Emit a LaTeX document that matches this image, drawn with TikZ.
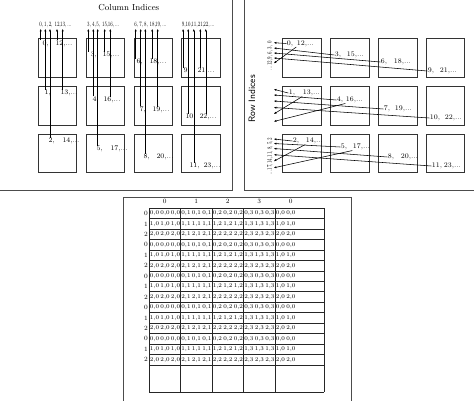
\documentclass[tikz,border=0pt]{standalone}
\usepackage{graphicx}
\usetikzlibrary{arrows.meta}
\newcommand\sqz[1]{\scalebox{0.66}[1]{#1}}
\newcommand\numc[1]{\makebox[0pt]{\sqz{#1}\rlap{\sqz{,}}}}
\newcommand\numd[1]{\makebox[0pt]{\sqz{#1}\rlap{\sqz{,\,...}}}}
\newcommand\nume[1]{\makebox[0pt]{\sqz{#1}}}
\newcommand\numf[1]{\makebox[0pt]{\llap{\sqz{...}}\sqz{#1}\rlap{\sqz{,}}}}
\begin{document}
\begin{tikzpicture}[x=1pt,y=-1pt,
  frame/.style={draw=black!70, line width=1pt},
  gbox/.style={draw=black!80, line width=0.7pt, minimum width=38.6pt, minimum height=38.5pt, inner sep=0pt, anchor=north west},
  itm/.style={font=\fontsize{7}{7}\selectfont, inner sep=0.3pt, anchor=west},
  arr/.style={line width=0.55pt, -{Latex[length=2.6pt,width=2.2pt]}},
  lab/.style={font=\fontsize{6.6}{7}\selectfont, inner sep=0pt, anchor=base},
  rlab/.style={lab, rotate=90},
  tline/.style={draw=black!85, line width=0.7pt},
  cell/.style={font=\fontsize{5.8}{6}\selectfont, inner sep=0pt},
  tlab/.style={font=\fontsize{6.5}{7}\selectfont, inner sep=0pt},
]
\useasboundingbox (0,0) rectangle (474,400);

% panel frames
\draw[frame] (-5,-5) rectangle (232,190.5);
\draw[frame] (244,-5) rectangle (480,190.5);
\draw[frame] (123,197) rectangle (351,405);

% ---------------- left panel ----------------
\node[font=\fontsize{8.7}{9}\selectfont, inner sep=0pt] (ctitle) at (128.8,7.5) {Column Indices};
\foreach \c/\x in {0/37.8,1/85.8,2/133.6,3/181.2}
  \foreach \r/\y in {0/38.3,1/86,2/133.5}
    \node[gbox] (LB\c\r) at (\x,\y) {};
\foreach \n/\tx/\ty in {0/42/43.5, 1/44/93, 2/48/141, 3/90/55, 4/92/100, 5/96/149, 6/136/62, 7/139/110, 8/143/157, 9/183/71, 10/185/117, 11/189/166}
  \node[itm] (a\n) at (\tx,\ty) {\n,};
\foreach \n/\tx/\ty in {12/55/43.5, 13/60/93, 14/62/141, 15/102/55, 16/103/100, 17/110/149, 18/149/62, 19/152/110, 20/156/157, 21/197/71, 22/199/117, 23/203/166}
  \node[itm] (a\n) at (\tx,\ty) {\n,...};
\foreach \n/\ax in {0/40.7, 1/45.3, 2/50, 12/57, 3/88.3, 4/93.3, 5/97.7, 15/104.7, 6/135.7, 7/140.7, 8/145.3, 18/152.2, 9/183.1, 10/188.2, 11/193.8, 21/200.3}{
  \node[lab] (l\n) at (\ax,26.3) {\numc{\n}};
  \coordinate (t\n) at (\ax,28.8);
  \draw[arr] (a\n.north -| t\n) -- (t\n);
}
\foreach \n/\ax in {13/62.7, 16/110.3, 19/157.7, 22/205.8}{
  \node[lab] (l\n) at (\ax,26.3) {\numd{\n}};
  \coordinate (t\n) at (\ax,28.8);
  \draw[arr] (a\n.north -| t\n) -- (t\n);
}

% ---------------- right panel ----------------
\node[font=\sffamily\fontsize{9.3}{10}\selectfont, rotate=90, inner sep=0pt] (rtitle) at (252,99) {Row Indices};
\begin{scope}[shift={(244.3,0)}]
\foreach \c/\x in {0/37.8,1/85.8,2/133.6,3/181.2}
  \foreach \r/\y in {0/38.3,1/86,2/133.5}
    \node[gbox] (RB\c\r) at (\x,\y) {};
\foreach \n/\tx/\ty in {0/42/43.5, 1/44/93, 2/48/141, 3/90/55, 4/92/100, 5/96/147, 6/136/62, 7/139/109, 8/143/157, 9/183/71, 10/185/118, 11/187/166}
  \node[itm] (ra\n) at (\tx,\ty) {\n,};
\foreach \n/\tx/\ty in {12/52/43.5, 13/58/93, 14/61/141, 15/102/55, 16/101/100, 17/108/147, 18/149/62, 19/150/109, 20/156/157, 21/195/71, 22/200/118, 23/199/166}
  \node[itm] (ra\n) at (\tx,\ty) {\n,...};
\end{scope}
% targets
\foreach \n/\ty in {0/42.7, 3/48, 6/53, 9/58, 12/63.3, 1/89.3, 4/95, 7/101, 10/107.5, 13/114, 16/121.5, 2/139, 5/143.5, 8/148.5, 11/154.7, 14/161.2, 17/167.8}
  \coordinate (rt\n) at (273.8,\ty);
% rotated row labels
\node[rlab] (rl0) at (271.6,42.7) {\nume{0}};
\foreach \n/\ty in {3/48, 6/53, 9/58, 5/143.5, 8/148.5, 11/154.7, 14/161.2}
  \node[rlab] (rl\n) at (271.6,\ty) {\numc{\n}};
\node[rlab] (rl12) at (271.6,63.3) {\numf{12}};
\node[rlab] (rl2) at (271.6,139) {\nume{2}};
\node[rlab] (rl17) at (271.6,167.8) {\numf{17}};
% arrows
\foreach \n in {0,3,6,9,1,4,7,10,2,5,8,11}
  \draw[arr] (ra\n.west) -- (rt\n);
\foreach \n in {12,13,16,14,17}
  \draw[arr] (ra\n.south west) -- (rt\n);

% ---------------- bottom table ----------------
\foreach \i in {0,...,15}
  \draw[tline] (149.3,208.3+10.44*\i) -- (324,208.3+10.44*\i);
\draw[tline] (149.3,392.3) -- (324,392.3);
\foreach \x in {149.3,180.75,212.2,243.65,275.1,324}
  \draw[tline] (\x,208.3) -- (\x,392.3);
\foreach \g/\t in {0/0,1/1,2/2,3/3,4/0}
  \node[tlab] (h\g) at (164.8+31.45*\g,201.7) {\t};
\foreach \i in {0,...,14}{
  \pgfmathtruncatemacro\rr{mod(\i,3)}
  \node[tlab, anchor=east] (r\i) at (148,208.3+10.44*\i+5.22) {\rr};
  \foreach \g in {0,...,3}
    \foreach \j in {0,1,2}
      \node[cell] (c\i-\g-\j) at (149.3+31.45*\g+5.24+10.48*\j,208.3+10.44*\i+5.22) {\rr,\g};
  \foreach \j in {0,1}
    \node[cell] (c\i-4-\j) at (275.1+5.24+10.48*\j,208.3+10.44*\i+5.22) {\rr,0};
}
\end{tikzpicture}
\end{document}
